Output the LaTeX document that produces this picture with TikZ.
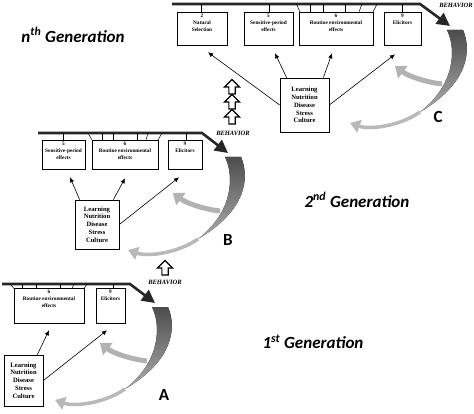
\documentclass[tikz,border=0pt]{standalone}
\usepackage{fontspec}
\setmainfont{Liberation Serif}
\newfontfamily\carlito{Carlito}
\usetikzlibrary{arrows.meta}

\tikzset{
  effbox/.style={draw, line width=.6pt, inner sep=0pt},
  efftext/.style={align=center, anchor=north, inner sep=2.5pt, font=\fontsize{5.3}{6.6}\selectfont\bfseries},
  learnbox/.style={draw, line width=.7pt, align=center, inner sep=0pt, font=\fontsize{6.6}{7.8}\selectfont\bfseries},
  bar/.style={line width=2.6pt, black!85, -{Triangle[length=13pt,width=13pt]}},
  tick/.style={line width=.5pt},
  link/.style={line width=.6pt, -{Latex[length=5pt,width=4.5pt]}},
  behav/.style={font=\fontsize{6.5}{7}\selectfont\bfseries\itshape},
  gen/.style={font=\carlito\fontsize{17}{20}\selectfont\bfseries\itshape},
  panel/.style={font=\carlito\fontsize{17}{20}\selectfont\bfseries},
  uparrow/.pic={\draw[line width=1.1pt, fill=white] (-3.2,7) -- (-3.2,0) -- (-7.5,0) -- (0,-7.5)
    -- (7.5,0) -- (3.2,0) -- (3.2,7) -- cycle;},
  crescent/.style={top color=black!70, bottom color=gray!65},
  feedback/.style={line width=5pt, gray!60, -{Triangle[length=10pt,width=15pt]}},
  bigfeed/.style={line width=3.5pt, gray!55, -{Triangle[length=10pt,width=13pt]}},
}

\begin{document}
\begin{tikzpicture}[x=1pt,y=-1pt]
\useasboundingbox (0,0) rectangle (474,414);

% generation labels
\node[gen] (gn) at (73,35) {n\textsuperscript{th} Generation};
\node[gen] (g2) at (357,200) {2\textsuperscript{nd} Generation};
\node[gen] (g1) at (313,342) {1\textsuperscript{st} Generation};

% bars
\coordinate (C0) at (172,4);  \coordinate (C1) at (420,4);  \coordinate (CT) at (450,26);
\coordinate (B0) at (38,133); \coordinate (B1) at (202,133); \coordinate (BT) at (228,153);
\coordinate (A0) at (2,284);  \coordinate (A1) at (130,284); \coordinate (AT) at (155,303);
\draw[bar] (C0) -- (C1) -- (CT);
\draw[bar] (B0) -- (B1) -- (BT);
\draw[bar] (A0) -- (A1) -- (AT);

% ticks
\foreach \a/\b in {201/201, 269/269, 296.5/300, 310/310, 323/323, 345/345, 362/359, 377/373, 402/402}
  \draw[tick] (\a,4) -- (\b,12);
\foreach \a/\b in {63/63, 88/92, 102/102, 113/113, 137/137, 148/146, 162/158, 186/186}
  \draw[tick] (\a,133) -- (\b,140);
\foreach \a/\b in {10/14, 22/22, 36/36, 60/60, 74/72, 87/84, 113/113}
  \draw[tick] (\a,284) -- (\b,288.5);

% nth generation boxes
\node[effbox, minimum width=50, minimum height=33] (C2) at (202,28.5) {};
\node[effbox, minimum width=49, minimum height=33] (C5) at (268.5,28.5) {};
\node[effbox, minimum width=74, minimum height=33] (C6) at (336,28.5) {};
\node[effbox, minimum width=37, minimum height=33] (C9) at (402.5,28.5) {};
\node[efftext] (C2t) at (C2.north) {2\\Natural\\Selection};
\node[efftext] (C5t) at (C5.north) {5\\Sensitive-period\\effects};
\node[efftext] (C6t) at (C6.north) {6\\Routine environmental\\effects};
\node[efftext] (C9t) at (C9.north) {9\\Elicitors};
\node[learnbox, minimum width=49, minimum height=54] (lC) at (304.5,105) {Learning\\Nutrition\\Disease\\Stress\\Culture};
\draw[link] (lC.west) -- ([shift={(6,7)}]C2.south);
\draw[link] ([xshift=7pt]lC.north west) -- ([shift={(6.5,8)}]C5.south);
\draw[link] ([xshift=-6pt]lC.north east) -- ([shift={(-4,8)}]C6.south);
\draw[link] (lC.east) -- ([shift={(-7.5,9)}]C9.south);

% 2nd generation boxes
\node[effbox, minimum width=43, minimum height=29] (B5) at (63.5,154.5) {};
\node[effbox, minimum width=66, minimum height=29] (B6) at (125,154.5) {};
\node[effbox, minimum width=34, minimum height=29] (B9) at (185,154.5) {};
\node[efftext] (B5t) at (B5.north) {5\\Sensitive-period\\effects};
\node[efftext] (B6t) at (B6.north) {6\\Routine environmental\\effects};
\node[efftext] (B9t) at (B9.north) {9\\Elicitors};
\node[learnbox, minimum width=44, minimum height=49] (lB) at (97,224.5) {Learning\\Nutrition\\Disease\\Stress\\Culture};
\draw[link] ([xshift=5pt]lB.north west) -- ([shift={(6.5,8)}]B5.south);
\draw[link] ([xshift=-6pt]lB.north east) -- ([shift={(0,9)}]B6.south);
\draw[link] (lB.east) -- ([shift={(-6,8)}]B9.south);

% 1st generation boxes
\node[effbox, minimum width=70, minimum height=35] (A6) at (49,305.5) {};
\node[effbox, minimum width=29, minimum height=35] (A9) at (110.5,305.5) {};
\node[efftext] (A6t) at (A6.north) {6\\Routine environmental\\effects};
\node[efftext] (A9t) at (A9.north) {9\\Elicitors};
\node[learnbox, minimum width=39, minimum height=51] (lA) at (23.5,380.5) {Learning\\Nutrition\\Disease\\Stress\\Culture};
\draw[link] ([xshift=-6pt]lA.north east) -- ([shift={(0,7)}]A6.south);
\draw[link] (lA.east) -- ([shift={(-3.5,7)}]A9.south);

% feedback arrows
\foreach \t in {AT, BT, CT} {
  \begin{scope}[shift={(\t)}]
    \fill[crescent] (13,4) .. controls (22,25) and (18,58) .. (-30,86)
      .. controls (6,58) and (6,22) .. (-3,4) -- cycle;
    \draw[feedback] (-8,58) .. controls (-25,56) and (-42,50) .. (-55,40);
    \draw[bigfeed] (-30,86) .. controls (-50,100) and (-80,104) .. (-100,97);
  \end{scope}
}

% behavior labels and up arrows
\node[behav] (bA) at (165,282) {BEHAVIOR};
\node[behav] (bB) at (233,133) {BEHAVIOR};
\node[behav] (bC) at (456,5) {BEHAVIOR};
\pic (u1) at (165,268) {uparrow};
\pic (u2) at (232,87) {uparrow};
\pic (u3) at (232,102) {uparrow};
\pic (u4) at (232,117) {uparrow};

% panel letters
\node[panel] (pA) at (164,395) {A};
\node[panel] (pB) at (228,240) {B};
\node[panel] (pC) at (438,117) {C};
\end{tikzpicture}
\end{document}
